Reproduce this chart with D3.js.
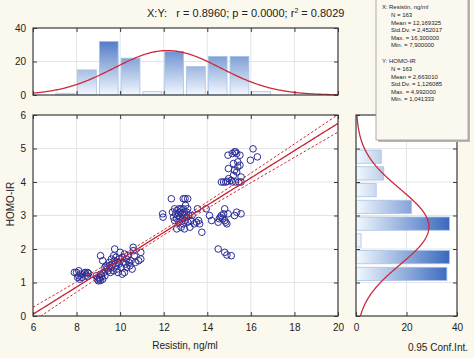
<!DOCTYPE html>
<html>
<head>
<meta charset="utf-8">
<script src="https://cdn.jsdelivr.net/npm/d3@7"></script>
<style>
  html, body { margin: 0; padding: 0; background: #fbf8ee; }
  svg { display: block; font-family: "Liberation Sans", Arial, sans-serif; }
  text { fill: #222; }
</style>
</head>
<body>
<svg id="chart" width="474" height="358"></svg>
<script>
// ---------------- DATA ----------------
const xTicks = [6, 8, 10, 12, 14, 16, 18, 20];
const yTicks = [0, 1, 2, 3, 4, 5, 6];
const topHistTicks = [0, 20, 40];
const rightHistTicks = [0, 20, 40];

// Resistin histogram (bin width 1)
const resistinBinStarts = [7, 8, 9, 10, 11, 12, 13, 14, 15, 16];
const resistinCounts    = [1, 15, 32, 22, 2, 26, 17, 23, 23, 2];

// HOMO-IR histogram (bin width 0.5)
const homaBinStarts = [1.0, 1.5, 2.0, 2.5, 3.0, 3.5, 4.0, 4.5];
const homaCounts    = [36, 37, 2, 37, 22, 8, 11, 10];

// Descriptive statistics
const statsN = 163;
const resistinMean = 12.169325, resistinSD = 2.452017;
const homaMean = 2.663010, homaSD = 1.126085;

// Regression line and its residual SD (for 0.95 confidence band)
const regIntercept = -2.39;
const regSlope = 0.407;
const residualSD = 0.50;
const tCrit = 1.975;

// Scatter points (Resistin, HOMO-IR)
const resistinValues = [
  7.9,
  8.0, 8.1, 8.1, 8.15, 8.2, 8.25, 8.35, 8.4, 8.45, 8.5, 8.5, 8.55, 8.05, 8.9, 8.95,
  9.0, 9.05, 9.05, 9.1, 9.1, 9.15, 9.1, 9.2, 9.2, 9.25, 9.3, 9.3, 9.35, 9.4, 9.45, 9.5,
  9.5, 9.55, 9.6, 9.6, 9.65, 9.7, 9.7, 9.75, 9.75, 9.8, 9.8, 9.85, 9.9, 9.9, 9.95, 9.95,
  10.0, 10.05, 10.1, 10.1, 10.15, 10.2, 10.2, 10.25, 10.3, 10.3, 10.35, 10.4, 10.45, 10.5,
  10.55, 10.6, 10.6, 10.65, 10.7, 10.85, 10.95, 10.95,
  11.95, 11.97,
  12.35, 12.4, 12.45, 12.5, 12.5, 12.55, 12.6, 12.6, 12.65, 12.7, 12.7, 12.75, 12.75, 12.8,
  12.8, 12.85, 12.85, 12.9, 12.9, 12.9, 12.95, 12.95, 12.95, 12.98, 12.98, 12.6,
  13.0, 13.05, 13.05, 13.1, 13.1, 13.1, 13.15, 13.2, 13.25, 13.3, 13.4, 13.5, 13.55, 13.6,
  13.65, 13.75, 13.95,
  14.2, 14.5, 14.55, 14.6, 14.65, 14.7, 14.75, 14.8, 14.8, 14.85, 14.9, 14.95, 14.5, 14.8,
  14.9, 14.65, 14.75, 14.85, 14.92, 14.95, 14.97, 14.98, 14.1,
  15.1, 15.15, 15.25, 15.3, 15.35, 15.5, 15.2, 15.4, 15.5, 15.25, 15.35, 15.2, 15.55, 15.15,
  15.3, 15.45, 15.55, 15.35, 15.55, 15.25, 15.98, 15.1, 15.4,
  16.1, 16.3
];
const homaValues = [
  1.3,
  1.3, 1.2, 1.35, 1.1, 1.25, 1.15, 1.28, 1.3, 1.22, 1.3, 1.18, 1.27, 1.15, 1.2, 1.1,
  1.05, 1.15, 1.1, 1.25, 1.06, 1.2, 1.8, 1.65, 1.1, 1.3, 1.2, 1.45, 1.5, 1.4, 1.35, 1.5,
  1.6, 1.3, 1.45, 1.7, 1.55, 1.8, 1.35, 1.65, 2.0, 1.5, 1.75, 1.4, 1.6, 1.3, 1.55, 1.7,
  1.9, 1.45, 1.25, 1.75, 1.6, 1.85, 1.3, 1.55, 1.7, 1.45, 1.8, 1.6, 1.5, 1.65,
  1.4, 2.05, 1.95, 1.8, 1.6, 1.65, 1.7, 1.9,
  3.05, 2.95,
  3.5, 3.1, 2.95, 3.2, 2.85, 3.05, 3.15, 2.9, 3.0, 3.2, 2.8, 3.1, 2.95, 2.65,
  3.2, 3.05, 2.9, 3.5, 3.2, 2.75, 3.0, 3.1, 2.6, 3.5, 2.85, 2.6,
  3.3, 3.1, 2.95, 3.5, 3.2, 2.8, 3.0, 2.65, 2.85, 3.0, 2.75, 2.8, 3.2, 2.85,
  2.75, 2.5, 3.2,
  2.85, 2.8, 2.9, 2.95, 3.0, 2.9, 3.05, 3.2, 2.85, 2.8, 2.75, 3.05, 2.0, 1.9,
  1.82, 4.0, 4.0, 4.0, 4.02, 4.8, 4.4, 4.1, 3.0,
  1.8, 4.85, 4.9, 4.9, 4.85, 4.8, 4.55, 4.6, 4.5, 4.35, 4.3, 4.2, 4.15, 4.0,
  4.0, 4.0, 4.0, 3.1, 3.05, 3.0, 4.65, 4.05, 4.45,
  4.99, 4.75
];

// Texts
const titleMain = "X:Y:   r = 0.8960; p = 0.0000; r";
const titleSup = "2";
const titleEnd = " = 0.8029";
const xAxisLabel = "Resistin, ng/ml";
const yAxisLabel = "HOMO-IR";
const confLabel = "0.95 Conf.Int.";
const infoXHeader = ["X:", "Resistin, ng/ml"];
const infoXLines = ["N = 163", "Mean = 12,169325", "Std.Dv. = 2,452017", "Max. = 16,300000", "Min. = 7,900000"];
const infoYHeader = ["Y:", "HOMO-IR"];
const infoYLines = ["N = 163", "Mean = 2,663010", "Std.Dv. = 1,126085", "Max. = 4,992000", "Min. = 1,041333"];

// ---------------- DRAW ----------------
const svg = d3.select("#chart");
const defs = svg.append("defs");

const mainP = { l: 33, r: 338, t: 115, b: 316 };
const topP = { t: 28, b: 95 };
const rightP = { l: 356, r: 457 };

const x = d3.scaleLinear().domain([6, 20]).range([mainP.l, mainP.r]);
const y = d3.scaleLinear().domain([0, 6]).range([mainP.b, mainP.t]);
const yTop = d3.scaleLinear().domain([0, 40]).range([topP.b, topP.t]);
const xRight = d3.scaleLinear().domain([0, 40]).range([rightP.l, rightP.r]);
const fmt = d3.format("d");

const gridColor = "#e4e4e4";
const boxColor = "#3a3a3a";

// gradients
const gTop = defs.append("linearGradient").attr("id", "gTop")
  .attr("gradientUnits", "userSpaceOnUse")
  .attr("x1", 0).attr("y1", topP.b).attr("x2", 0).attr("y2", topP.t);
gTop.append("stop").attr("offset", 0).attr("stop-color", "#f2f8fe");
gTop.append("stop").attr("offset", 1).attr("stop-color", "#2a5db8");

const gRight = defs.append("linearGradient").attr("id", "gRight")
  .attr("gradientUnits", "userSpaceOnUse")
  .attr("x1", rightP.l).attr("y1", 0).attr("x2", rightP.r).attr("y2", 0);
gRight.append("stop").attr("offset", 0).attr("stop-color", "#f2f8fe");
gRight.append("stop").attr("offset", 1).attr("stop-color", "#2a5db8");

// panel backgrounds
svg.append("rect").attr("x", mainP.l).attr("y", mainP.t)
  .attr("width", mainP.r - mainP.l).attr("height", mainP.b - mainP.t).attr("fill", "#fff");
svg.append("rect").attr("x", mainP.l).attr("y", topP.t)
  .attr("width", mainP.r - mainP.l).attr("height", topP.b - topP.t).attr("fill", "#fff");
svg.append("rect").attr("x", rightP.l).attr("y", mainP.t)
  .attr("width", rightP.r - rightP.l).attr("height", mainP.b - mainP.t).attr("fill", "#fff");

// gridlines
const grid = svg.append("g").attr("stroke", gridColor).attr("stroke-width", 1);
xTicks.slice(1, -1).forEach(t => {
  grid.append("line").attr("x1", x(t)).attr("x2", x(t)).attr("y1", mainP.t).attr("y2", mainP.b);
  grid.append("line").attr("x1", x(t)).attr("x2", x(t)).attr("y1", topP.t).attr("y2", topP.b);
});
yTicks.slice(1, -1).forEach(t => {
  grid.append("line").attr("x1", mainP.l).attr("x2", mainP.r).attr("y1", y(t)).attr("y2", y(t));
  grid.append("line").attr("x1", rightP.l).attr("x2", rightP.r).attr("y1", y(t)).attr("y2", y(t));
});
topHistTicks.slice(1, -1).forEach(t => {
  grid.append("line").attr("x1", mainP.l).attr("x2", mainP.r).attr("y1", yTop(t)).attr("y2", yTop(t));
});
rightHistTicks.slice(1, -1).forEach(t => {
  grid.append("line").attr("x1", xRight(t)).attr("x2", xRight(t)).attr("y1", mainP.t).attr("y2", mainP.b);
});

// top histogram bars
svg.append("g").selectAll("rect").data(resistinBinStarts).join("rect")
  .attr("x", (d) => x(d) + 1)
  .attr("width", (d) => x(d + 1) - x(d) - 3)
  .attr("y", (d, i) => yTop(resistinCounts[i]))
  .attr("height", (d, i) => yTop(0) - yTop(resistinCounts[i]))
  .attr("fill", "url(#gTop)")
  .attr("stroke", "#a8c4e6").attr("stroke-width", 0.8);

// right histogram bars
svg.append("g").selectAll("rect").data(homaBinStarts).join("rect")
  .attr("y", (d) => y(d + 0.5) + 1.5)
  .attr("height", (d) => y(d) - y(d + 0.5) - 3.5)
  .attr("x", xRight(0))
  .attr("width", (d, i) => xRight(homaCounts[i]) - xRight(0))
  .attr("fill", "url(#gRight)")
  .attr("stroke", "#a8c4e6").attr("stroke-width", 0.8);

// normal curves
const curveColor = "#cc2a3a";
const pdf = (v, m, s) => Math.exp(-0.5 * ((v - m) / s) ** 2) / (s * Math.sqrt(2 * Math.PI));
const topCurve = d3.range(6, 20.001, 0.05).map(v => [v, statsN * 1 * pdf(v, resistinMean, resistinSD)]);
svg.append("path").datum(topCurve)
  .attr("d", d3.line().x(d => x(d[0])).y(d => yTop(d[1])))
  .attr("fill", "none").attr("stroke", curveColor).attr("stroke-width", 1.3);
const rightCurve = d3.range(0, 6.001, 0.025).map(v => [v, statsN * 0.5 * pdf(v, homaMean, homaSD)]);
svg.append("path").datum(rightCurve)
  .attr("d", d3.line().x(d => xRight(d[1])).y(d => y(d[0])))
  .attr("fill", "none").attr("stroke", curveColor).attr("stroke-width", 1.3);

// clip for main plot
defs.append("clipPath").attr("id", "clipMain").append("rect")
  .attr("x", mainP.l).attr("y", mainP.t).attr("width", mainP.r - mainP.l).attr("height", mainP.b - mainP.t);

const plot = svg.append("g").attr("clip-path", "url(#clipMain)");

// scatter
const pts = resistinValues.map((v, i) => [v, homaValues[i]]);
plot.append("g").selectAll("circle").data(pts).join("circle")
  .attr("cx", d => x(d[0])).attr("cy", d => y(d[1])).attr("r", 3.3)
  .attr("fill", "none").attr("stroke", "#2b2e95").attr("stroke-width", 1);

// regression & confidence band
const Sxx = (statsN - 1) * resistinSD * resistinSD;
const fitX = d3.range(6, 20.001, 0.1);
const fit = v => regIntercept + regSlope * v;
const half = v => tCrit * residualSD * Math.sqrt(1 / statsN + (v - resistinMean) ** 2 / Sxx);
const lineGen = f => d3.line().x(v => x(v)).y(v => y(f(v)));
plot.append("path").datum(fitX).attr("d", lineGen(fit))
  .attr("fill", "none").attr("stroke", "#c8202e").attr("stroke-width", 1.3);
plot.append("path").datum(fitX).attr("d", lineGen(v => fit(v) + half(v)))
  .attr("fill", "none").attr("stroke", "#c8202e").attr("stroke-width", 1).attr("stroke-dasharray", "2.5,2");
plot.append("path").datum(fitX).attr("d", lineGen(v => fit(v) - half(v)))
  .attr("fill", "none").attr("stroke", "#c8202e").attr("stroke-width", 1).attr("stroke-dasharray", "2.5,2");

// axes
function styleAxis(g) {
  g.select(".domain").remove();
  g.selectAll(".tick line").attr("stroke", boxColor);
  g.selectAll(".tick text").attr("fill", "#222").attr("font-size", 10)
    .attr("font-family", "Liberation Sans, Arial, sans-serif");
}
// main
svg.append("g").attr("transform", `translate(0,${mainP.b})`)
  .call(d3.axisBottom(x).tickValues(xTicks).tickFormat(fmt).tickSize(-4).tickPadding(8)).call(styleAxis);
svg.append("g").attr("transform", `translate(0,${mainP.t})`)
  .call(d3.axisTop(x).tickValues(xTicks).tickSize(-4).tickFormat("")).call(styleAxis);
svg.append("g").attr("transform", `translate(${mainP.l},0)`)
  .call(d3.axisLeft(y).tickValues(yTicks).tickFormat(fmt).tickSize(-4).tickPadding(7)).call(styleAxis);
svg.append("g").attr("transform", `translate(${mainP.r},0)`)
  .call(d3.axisRight(y).tickValues(yTicks).tickSize(-4).tickFormat("")).call(styleAxis);
// top hist
svg.append("g").attr("transform", `translate(${mainP.l},0)`)
  .call(d3.axisLeft(yTop).tickValues(topHistTicks).tickFormat(fmt).tickSize(-4).tickPadding(7)).call(styleAxis);
svg.append("g").attr("transform", `translate(${mainP.r},0)`)
  .call(d3.axisRight(yTop).tickValues(topHistTicks).tickSize(-4).tickFormat("")).call(styleAxis);
svg.append("g").attr("transform", `translate(0,${topP.t})`)
  .call(d3.axisTop(x).tickValues(xTicks).tickSize(-4).tickFormat("")).call(styleAxis);
svg.append("g").attr("transform", `translate(0,${topP.b})`)
  .call(d3.axisBottom(x).tickValues(xTicks).tickSize(-4).tickFormat("")).call(styleAxis);
// right hist
svg.append("g").attr("transform", `translate(0,${mainP.b})`)
  .call(d3.axisBottom(xRight).tickValues(rightHistTicks).tickFormat(fmt).tickSize(-4).tickPadding(8)).call(styleAxis);
svg.append("g").attr("transform", `translate(${rightP.l},0)`)
  .call(d3.axisLeft(y).tickValues(yTicks).tickSize(-4).tickFormat("")).call(styleAxis);
svg.append("g").attr("transform", `translate(${rightP.r},0)`)
  .call(d3.axisRight(y).tickValues(yTicks).tickSize(-4).tickFormat("")).call(styleAxis);

// panel borders
[[mainP.l, mainP.t, mainP.r, mainP.b], [mainP.l, topP.t, mainP.r, topP.b], [rightP.l, mainP.t, rightP.r, mainP.b]]
  .forEach(([x0, y0, x1, y1]) => {
    svg.append("rect").attr("x", x0).attr("y", y0).attr("width", x1 - x0).attr("height", y1 - y0)
      .attr("fill", "none").attr("stroke", boxColor).attr("stroke-width", 1.2);
  });

// title
const title = svg.append("text").attr("x", 147).attr("y", 17).attr("font-size", 11)
  .style("white-space", "pre");
title.append("tspan").text(titleMain);
title.append("tspan").attr("font-size", 7).attr("dy", -4).text(titleSup);
title.append("tspan").attr("dy", 4).text(titleEnd);

// axis labels
svg.append("text").attr("x", 185).attr("y", 349).attr("text-anchor", "middle")
  .attr("font-size", 10).text(xAxisLabel);
svg.append("text").attr("transform", "translate(13.5,204) rotate(-90)").attr("text-anchor", "middle")
  .attr("font-size", 10).text(yAxisLabel);
svg.append("text").attr("x", 438).attr("y", 351).attr("text-anchor", "middle")
  .attr("font-size", 10).text(confLabel);

// info box
svg.append("rect").attr("x", 378).attr("y", -2).attr("width", 92).attr("height", 144)
  .attr("fill", "#b9b6ad");
svg.append("rect").attr("x", 376).attr("y", -3).attr("width", 92).attr("height", 143)
  .attr("fill", "#fbf8ef").attr("stroke", "#9c9a94").attr("stroke-width", 0.8);
const info = svg.append("g").attr("font-size", 6).attr("fill", "#333");
info.append("text").attr("x", 382).attr("y", 9).text(infoXHeader[0]);
info.append("text").attr("x", 389).attr("y", 9).text(infoXHeader[1]);
infoXLines.forEach((t, i) => info.append("text").attr("x", 391).attr("y", 17 + i * 7.6).text(t));
info.append("text").attr("x", 382).attr("y", 63).text(infoYHeader[0]);
info.append("text").attr("x", 389).attr("y", 63).text(infoYHeader[1]);
infoYLines.forEach((t, i) => info.append("text").attr("x", 391).attr("y", 71 + i * 7.5).text(t));
</script>
</body>
</html>
